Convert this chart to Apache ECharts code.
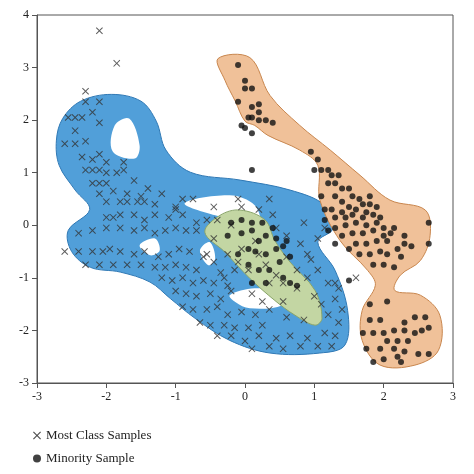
<!DOCTYPE html>
<html>
<head>
<meta charset="utf-8">
<script src="https://cdn.jsdelivr.net/npm/echarts@6/dist/echarts.min.js"></script>
<style>html,body{margin:0;padding:0;background:#fff}#chart{width:474px;height:474px}</style>
</head>
<body>
<div id="chart"></div>
<script>
// region outlines (data coords)
var blueRegion = [[-2.63,2.03],[-2.37,2.36],[-1.93,2.49],[-1.5,2.36],[-1.28,1.98],[-1.14,1.43],[-0.79,1.01],[-0.07,0.86],[0.65,0.67],[1.15,0.38],[1.27,-0.06],[1.05,-0.32],[1.3,-0.86],[1.48,-1.62],[1.44,-2.28],[1.08,-2.43],[0.36,-2.43],[-0.22,-2.19],[-0.72,-1.77],[-1.08,-1.39],[-1.37,-1.08],[-1.8,-0.89],[-2.23,-0.8],[-2.5,-0.5],[-2.55,-0.1],[-2.24,0.3],[-2.45,0.67],[-2.68,1.14],[-2.72,1.62]];
var holes = [
  [[-1.88,1.9],[-1.67,2.03],[-1.52,1.52],[-1.59,1.27],[-1.91,1.41]],
  [[-1.52,-0.38],[-1.3,-0.25],[-1.23,-0.48],[-1.37,-0.57]],
  [[-0.65,-0.48],[-0.51,-0.32],[-0.43,-0.63],[-0.53,-0.76]],
  [[-0.22,-1.33],[0.14,-1.2],[0.5,-1.27],[0.53,-1.52],[0.07,-1.58],[-0.14,-1.46]],
  [[-0.87,0.42],[-0.22,0.57],[0.14,0.38],[0.22,0],[0,0.1],[-0.43,0.19]]
];
var greenRegion = [[-0.58,-0.13],[-0.36,0.19],[-0.07,0.29],[0.29,0.1],[0.43,-0.29],[0.65,-0.7],[1.01,-1.24],[1.11,-1.77],[1.01,-1.9],[0.72,-1.71],[0.43,-1.43],[0.07,-1.01],[-0.29,-0.51]];
var orangeRegion = [[-0.39,3.17],[0.07,3.19],[0.36,2.47],[0.79,1.9],[1.23,1.43],[1.66,0.95],[2.09,0.48],[2.6,0.29],[2.67,-0.19],[2.53,-0.67],[2.24,-0.95],[2.16,-1.24],[2.53,-1.33],[2.81,-1.71],[2.79,-2.38],[2.45,-2.66],[1.95,-2.66],[1.69,-2.19],[1.69,-1.62],[1.88,-1.14],[1.77,-0.86],[1.37,-0.29],[1.08,0.48],[1.05,1.14],[0.79,1.43],[0.33,1.71],[0.14,1.9],[0,1.98],[-0.14,2.36],[-0.29,2.76]];

// samples
var mostClass = [[-2.1,3.7],[-1.85,3.08],[-2.3,2.55],[-2.3,2.35],[-2.1,2.35],[-2.55,2.05],[-2.45,2.05],[-2.35,2.05],[-2.2,2.15],[-2.1,1.95],[-2.45,1.8],[-2.6,1.55],[-2.45,1.55],[-2.3,1.6],[-2.35,1.3],[-2.2,1.25],[-2.1,1.35],[-2.0,1.2],[-1.75,1.2],[-2.3,1.05],[-2.2,1.05],[-2.1,1.05],[-2.0,1.0],[-1.85,1.0],[-1.75,1.05],[-2.2,0.8],[-2.1,0.8],[-2.0,0.8],[-1.6,0.85],[-1.4,0.7],[-1.9,0.65],[-1.7,0.6],[-2.1,0.6],[-2.0,0.45],[-1.8,0.45],[-1.7,0.45],[-1.55,0.45],[-1.45,0.45],[-1.3,0.4],[-1.5,0.55],[-1.2,0.6],[-1.0,0.35],[-0.9,0.5],[-0.75,0.5],[-0.45,0.35],[-2.0,0.15],[-1.9,0.15],[-1.8,0.2],[-1.6,0.2],[-1.45,0.1],[-1.3,0.2],[-1.1,0.15],[-1.0,0.3],[-0.9,0.2],[-0.7,0.05],[-0.55,0.1],[-0.4,0.1],[-0.2,0.0],[-2.4,-0.15],[-2.2,-0.1],[-2.0,-0.05],[-1.8,-0.05],[-1.6,-0.1],[-1.45,-0.05],[-1.3,-0.15],[-1.15,-0.1],[-1.0,-0.05],[-0.85,-0.1],[-0.7,-0.1],[-2.6,-0.5],[-2.4,-0.5],[-2.2,-0.5],[-2.05,-0.5],[-1.95,-0.45],[-1.8,-0.5],[-1.6,-0.55],[-1.45,-0.5],[-1.25,-0.6],[-1.1,-0.55],[-0.95,-0.45],[-0.8,-0.5],[-0.6,-0.6],[-2.3,-0.75],[-2.1,-0.75],[-1.9,-0.75],[-1.7,-0.75],[-1.5,-0.75],[-1.3,-0.8],[-1.15,-0.8],[-1.0,-0.75],[-0.85,-0.8],[-0.7,-0.85],[-0.45,-0.7],[-0.35,-0.9],[-1.2,-1.0],[-1.05,-1.05],[-0.9,-1.0],[-0.75,-1.1],[-0.6,-1.05],[-0.45,-1.1],[-0.3,-1.0],[-0.15,-0.85],[0.05,-0.85],[-1.0,-1.25],[-0.85,-1.3],[-0.7,-1.35],[-0.5,-1.3],[-0.35,-1.4],[-0.2,-1.25],[0.1,-1.3],[-0.9,-1.55],[-0.75,-1.6],[-0.55,-1.6],[-0.4,-1.55],[-0.25,-1.7],[-0.05,-1.65],[0.15,-1.7],[0.35,-1.6],[-0.65,-1.85],[-0.5,-1.9],[-0.3,-1.9],[-0.15,-1.95],[0.05,-1.95],[0.25,-1.9],[-0.4,-2.1],[-0.2,-2.1],[0.0,-2.2],[0.2,-2.1],[0.45,-2.15],[0.65,-2.1],[0.9,-2.15],[0.1,-2.35],[0.35,-2.3],[0.55,-2.35],[0.8,-2.3],[1.05,-2.3],[1.25,-2.3],[1.3,-2.1],[1.15,-2.05],[1.35,-1.85],[1.2,-1.7],[1.4,-1.6],[1.1,-1.5],[1.3,-1.4],[1.0,-1.35],[1.35,-1.2],[1.2,-1.1],[0.9,-1.0],[0.75,-0.85],[1.05,-0.85],[0.6,-0.6],[0.9,-0.55],[0.8,-0.35],[0.6,-0.2],[0.45,-0.05],[0.85,0.05],[1.15,-0.05],[1.05,-0.25],[0.95,-0.65],[0.75,-1.2],[0.55,-1.45],[0.6,-1.75],[0.85,-1.8],[0.45,-0.95],[0.3,-0.75],[0.2,-0.55],[0.15,-0.3],[-0.05,-0.45],[-0.25,-0.55],[-0.45,-0.25],[-0.55,-0.55],[-0.1,-0.7],[0.35,-1.1],[0.55,-1.1],[-0.1,0.5],[-0.05,0.35],[0.2,0.3],[0.4,0.2],[0.35,0.5],[-0.25,-1.15],[0.25,-1.45],[1.3,-1.1],[1.6,-1.0]];
var minority = [[-0.1,3.05],[0.0,2.75],[0.0,2.6],[0.1,2.6],[-0.1,2.35],[0.1,2.25],[0.2,2.3],[0.2,2.15],[0.05,2.05],[0.1,2.05],[0.2,2.0],[-0.05,1.9],[0.3,2.0],[0.4,1.95],[0.1,1.75],[0.0,1.85],[0.95,1.4],[1.05,1.25],[1.1,1.05],[1.0,1.05],[1.2,1.05],[1.25,0.95],[1.35,0.95],[1.2,0.8],[1.3,0.8],[1.4,0.7],[1.5,0.7],[1.1,0.55],[1.3,0.55],[1.4,0.45],[1.55,0.55],[1.65,0.5],[1.8,0.55],[1.7,0.4],[1.8,0.4],[1.6,0.3],[1.5,0.35],[1.4,0.25],[1.25,0.3],[1.15,0.3],[1.15,0.1],[1.3,0.15],[1.45,0.15],[1.55,0.2],[1.7,0.15],[1.85,0.2],[1.9,0.05],[1.75,0.0],[1.6,0.05],[1.45,0.0],[1.3,-0.05],[1.2,-0.1],[1.4,-0.2],[1.55,-0.15],[1.7,-0.15],[1.85,-0.1],[2.0,-0.05],[2.1,-0.15],[2.05,-0.3],[1.9,-0.3],[1.75,-0.35],[1.6,-0.35],[1.5,-0.45],[1.3,-0.35],[1.65,-0.55],[1.8,-0.55],[1.95,-0.5],[2.05,-0.55],[2.2,-0.45],[2.3,-0.35],[2.4,-0.4],[2.3,-0.2],[2.15,-0.05],[2.65,-0.35],[2.65,0.05],[2.0,-0.75],[2.15,-0.8],[1.95,0.15],[1.75,0.25],[1.9,0.35],[2.0,-0.2],[2.25,-0.6],[1.85,-0.75],[1.8,-1.5],[2.05,-1.45],[1.95,-1.8],[1.8,-1.8],[1.7,-2.05],[1.85,-2.05],[2.0,-2.05],[2.15,-2.0],[2.3,-2.0],[2.45,-2.05],[2.55,-2.0],[2.65,-1.95],[2.3,-1.85],[1.75,-2.35],[1.95,-2.35],[2.15,-2.35],[2.3,-2.4],[2.5,-2.45],[2.65,-2.45],[2.2,-2.5],[2.0,-2.55],[1.85,-2.6],[2.25,-2.6],[2.2,-2.2],[2.35,-2.2],[2.05,-2.2],[2.45,-1.75],[2.6,-1.75],[0.1,1.05],[1.5,-1.05],[-0.25,-0.2],[-0.2,0.05],[-0.05,0.1],[0.1,0.05],[0.25,0.05],[-0.05,-0.15],[0.1,-0.1],[0.2,-0.3],[0.3,-0.2],[0.4,-0.05],[0.15,-0.5],[0.3,-0.55],[0.05,-0.45],[0.45,-0.45],[0.55,-0.4],[0.35,-0.85],[0.5,-0.7],[0.2,-0.85],[0.05,-0.75],[0.3,-1.1],[0.55,-1.0],[0.65,-0.6],[0.65,-1.1],[0.75,-1.15],[0.1,-1.1],[-0.1,-0.55],[0.45,-0.25],[0.6,-0.3]];
var xTicks = [-3, 3];
var yTicks = [-3, 4];

var chart = echarts.init(document.getElementById('chart'));

function polygonSeries(pts, fill, stroke, z) {
  return {
    type: 'custom',
    coordinateSystem: 'cartesian2d',
    z: z,
    silent: true,
    data: [0],
    renderItem: function (params, api) {
      return {
        type: 'polygon',
        shape: { points: pts.map(function (p) { return api.coord(p); }), smooth: 0.35 },
        style: { fill: fill, stroke: stroke, lineWidth: stroke === 'none' ? 0 : 1 }
      };
    }
  };
}

var cross = 'path://M0,1L1,0L5,4L9,0L10,1L6,5L10,9L9,10L5,6L1,10L0,9L4,5Z';
var series = [
  polygonSeries(blueRegion, '#519fd9', '#2f78b4', 1),
  polygonSeries(orangeRegion, '#f0c199', '#c8864e', 1)
];
holes.forEach(function (h) { series.push(polygonSeries(h, '#ffffff', 'none', 2)); });
series.push(polygonSeries(greenRegion, '#c3d6a3', '#8aa56a', 3));
series.push({ name: 'Most Class Samples', type: 'scatter', symbol: cross, symbolSize: 7, z: 5,
  itemStyle: { color: '#333' }, data: mostClass });
series.push({ name: 'Minority Sample', type: 'scatter', symbol: 'circle', symbolSize: 6, z: 6,
  itemStyle: { color: '#111' }, data: minority });

chart.setOption({
  animation: false,
  grid: { left: 37, right: 21, top: 15, bottom: 91, show: true, borderColor: '#555', borderWidth: 1 },
  legend: {
    orient: 'vertical', left: 28, top: 424, itemGap: 10, itemWidth: 8, itemHeight: 8,
    textStyle: { fontFamily: 'Liberation Serif', fontSize: 13, color: '#222' },
    data: [
      { name: 'Most Class Samples', icon: cross, itemStyle: { color: '#222' } },
      { name: 'Minority Sample', icon: 'circle', itemStyle: { color: '#111' } }
    ]
  },
  xAxis: {
    type: 'value', min: xTicks[0], max: xTicks[1], interval: 1,
    axisLine: { onZero: false, lineStyle: { color: '#555' } }, axisTick: { lineStyle: { color: '#555' } },
    splitLine: { show: false },
    axisLabel: { fontFamily: 'Liberation Serif', fontSize: 12, color: '#222' }
  },
  yAxis: {
    type: 'value', min: yTicks[0], max: yTicks[1], interval: 1,
    axisLine: { show: true, onZero: false, lineStyle: { color: '#555' } }, axisTick: { show: true, lineStyle: { color: '#555' } },
    splitLine: { show: false },
    axisLabel: { fontFamily: 'Liberation Serif', fontSize: 12, color: '#222' }
  },
  series: series
});
</script>
</body>
</html>
